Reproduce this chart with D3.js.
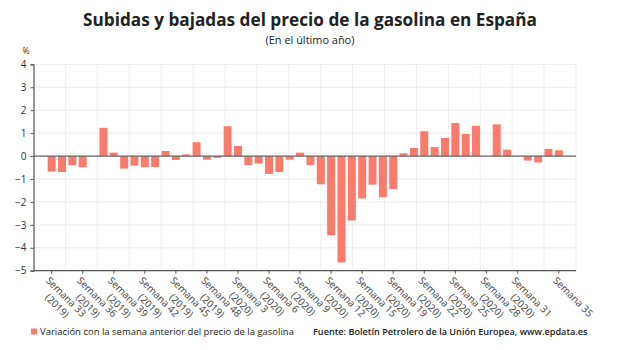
<!DOCTYPE html>
<html><head><meta charset="utf-8">
<script src="https://cdnjs.cloudflare.com/ajax/libs/d3/7.8.5/d3.min.js"></script>
<style>
body{margin:0;background:#fff;}
svg{display:block;font-family:"Open Sans",sans-serif;}
</style></head>
<body><svg id="c" width="620" height="350"></svg>
<script>
const categories = [
 "Semana 33 (2019)","Semana 34 (2019)","Semana 35 (2019)","Semana 36 (2019)","Semana 37 (2019)",
 "Semana 38 (2019)","Semana 39 (2019)","Semana 40 (2019)","Semana 41 (2019)","Semana 42 (2019)",
 "Semana 43 (2019)","Semana 44 (2019)","Semana 45 (2019)","Semana 46 (2019)","Semana 47 (2019)",
 "Semana 48 (2019)","Semana 49 (2019)","Semana 50 (2019)","Semana 3 (2020)","Semana 4 (2020)",
 "Semana 5 (2020)","Semana 6 (2020)","Semana 7 (2020)","Semana 8 (2020)","Semana 9 (2020)",
 "Semana 10 (2020)","Semana 11 (2020)","Semana 12 (2020)","Semana 13 (2020)","Semana 14 (2020)",
 "Semana 15 (2020)","Semana 16 (2020)","Semana 18 (2020)","Semana 19 (2020)","Semana 20 (2020)",
 "Semana 21 (2020)","Semana 22 (2020)","Semana 23 (2020)","Semana 24 (2020)","Semana 25 (2020)",
 "Semana 26 (2020)","Semana 27 (2020)","Semana 28 (2020)","Semana 29 (2020)","Semana 30 (2020)",
 "Semana 31 (2020)","Semana 32 (2020)","Semana 33 (2020)","Semana 34 (2020)","Semana 35"
];
const values = [
 -0.68,-0.70,-0.40,-0.49,null,
 1.23,0.15,-0.55,-0.42,-0.49,
 -0.48,0.22,-0.17,0.07,0.60,
 -0.16,-0.08,1.30,0.44,-0.40,
 -0.33,-0.78,-0.70,-0.16,0.15,
 -0.39,-1.23,-3.46,-4.64,-2.81,
 -1.85,-1.25,-1.80,-1.44,0.12,
 0.35,1.08,0.39,0.79,1.44,
 0.96,1.32,null,1.38,0.28,
 null,-0.20,-0.28,0.31,0.25
];
const tickCategories = [
 "Semana 33 (2019)","Semana 36 (2019)","Semana 39 (2019)","Semana 42 (2019)","Semana 45 (2019)",
 "Semana 48 (2019)","Semana 3 (2020)","Semana 6 (2020)","Semana 9 (2020)","Semana 12 (2020)",
 "Semana 15 (2020)","Semana 19 (2020)","Semana 22 (2020)","Semana 25 (2020)","Semana 28 (2020)",
 "Semana 31 (2020)","Semana 35"
];
const yTicks = [4,3,2,1,0,-1,-2,-3,-4,-5];
const seriesName = "Variación con la semana anterior del precio de la gasolina";
const source = "Fuente: Boletín Petrolero de la Unión Europea, www.epdata.es";
const barColor = "#f97b6b";

const svg = d3.select("#c");
const L = 33.5, R = 576, T = 64.3, B = 270.7;

const y = d3.scaleLinear().domain([-5,4]).range([B,T]);
const x = d3.scaleBand().domain(categories).range([46.5, 564]).paddingInner(0.23).paddingOuter(0.115);
const gx = d3.scaleLinear().domain([0,17]).range([L, R]);

function fit(sel, w){
  const n = sel.node(); const fs = +sel.attr("font-size");
  const m = n.getComputedTextLength();
  if(m>0) sel.attr("font-size", (fs*w/m).toFixed(2));
  return sel;
}

// title
fit(svg.append("text").attr("x",310).attr("y",26).attr("text-anchor","middle")
  .attr("font-size",17.5).attr("font-weight",700).attr("fill","#222")
  .text("Subidas y bajadas del precio de la gasolina en España"), 454);
fit(svg.append("text").attr("x",310).attr("y",43.5).attr("text-anchor","middle")
  .attr("font-size",10).attr("fill","#222").text("(En el último año)"), 89);

// grid
const grid = svg.append("g");
grid.selectAll("line.h").data(yTicks).join("line")
  .attr("x1",L).attr("x2",R).attr("y1",d=>y(d)).attr("y2",d=>y(d))
  .attr("stroke","#d9d9d9").attr("stroke-width",1).attr("stroke-dasharray","1,1");
grid.selectAll("line.v").data(d3.range(1,18)).join("line")
  .attr("x1",d=>gx(d)).attr("x2",d=>gx(d)).attr("y1",T).attr("y2",B)
  .attr("stroke","#dedede").attr("stroke-width",1).attr("stroke-dasharray","1,1");

// bars
svg.append("g").selectAll("rect").data(categories.map((c,i)=>({c,v:values[i]})).filter(d=>d.v!==null))
  .join("rect")
  .attr("x",d=>x(d.c)).attr("width",x.bandwidth())
  .attr("y",d=>y(Math.max(0,d.v))).attr("height",d=>Math.abs(y(d.v)-y(0)))
  .attr("fill",barColor);

// zero line
svg.append("line").attr("x1",L).attr("x2",R).attr("y1",y(0)).attr("y2",y(0))
  .attr("stroke","#666").attr("stroke-width",1.3);

// y axis
const yAxis = svg.append("g").attr("transform",`translate(${L},0)`)
  .call(d3.axisLeft(y).tickValues(yTicks).tickSize(3).tickPadding(4).tickFormat(d3.format("d")));
yAxis.select(".domain").attr("stroke","#555").attr("stroke-width",1.2);
yAxis.selectAll(".tick line").attr("stroke","#555");
yAxis.selectAll("text").attr("font-family","Open Sans").attr("font-size",10).attr("fill","#333");
svg.append("text").attr("x",26).attr("y",54).attr("text-anchor","middle")
  .attr("font-size",8.5).attr("fill","#333").text("%");

// x axis
svg.append("line").attr("x1",L).attr("x2",R).attr("y1",B).attr("y2",B)
  .attr("stroke","#555").attr("stroke-width",1.2);
const xt = svg.append("g").selectAll("g").data(tickCategories).join("g")
  .attr("transform",d=>`translate(${x(d)+x.bandwidth()/2},${B})`);
xt.append("line").attr("y1",0).attr("y2",3).attr("stroke","#555");
xt.each(function(d){
  const g = d3.select(this).append("g").attr("transform","translate(-4,8) rotate(45)");
  const m = d.match(/^(Semana \d+)(?: (\(\d+\)))?$/);
  const t1 = g.append("text").attr("x",0).attr("y",0).attr("dy","0.35em")
    .attr("font-size",10).attr("fill","#444").text(m[1]);
  if(m[2]){
    const w = t1.node().getComputedTextLength();
    g.append("text").attr("x",w/2).attr("y",12.5).attr("dy","0.35em").attr("text-anchor","middle")
      .attr("font-size",10).attr("fill","#444").text(m[2]);
  }
});

// legend
svg.append("rect").attr("x",31).attr("y",328.5).attr("width",6).attr("height",6).attr("fill",barColor);
fit(svg.append("text").attr("x",40).attr("y",335).attr("font-size",10).attr("fill","#222").text(seriesName), 254);
fit(svg.append("text").attr("x",313).attr("y",335).attr("font-size",10).attr("font-weight",600).attr("fill","#222").text(source), 275);
</script></body></html>
